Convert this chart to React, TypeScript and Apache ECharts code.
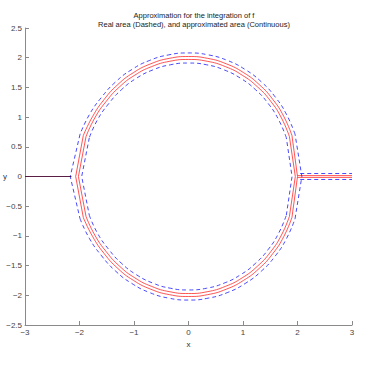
import React, { useEffect, useRef } from "react";
import * as echarts from "echarts";

const titleLines = [
  "Approximation for the integration of f",
  "Real area (Dashed), and approximated area (Continuous)",
];
const xTicks = [-3, -2, -1, 0, 1, 2, 3];
const yTicks = [-2.5, -2, -1.5, -1, -0.5, 0, 0.5, 1, 1.5, 2, 2.5];

// Closed curves: right tip, upper arc, left tip, lower arc, back to right tip
const realOuter: number[][] = [
  [2.08, 0], [1.955, 0.711], [1.801, 1.04], [1.593, 1.337], [1.337, 1.593], [1.04, 1.801], [0.711, 1.955], [0.361, 2.048], [0, 2.08],
  [-0.361, 2.048], [-0.711, 1.955], [-1.04, 1.801], [-1.337, 1.593], [-1.593, 1.337], [-1.82, 1.04], [-1.99, 0.711], [-2.17, 0],
  [-1.99, -0.711], [-1.82, -1.04], [-1.593, -1.337], [-1.337, -1.593], [-1.04, -1.801], [-0.711, -1.955], [-0.361, -2.048], [0, -2.08],
  [0.361, -2.048], [0.711, -1.955], [1.04, -1.801], [1.337, -1.593], [1.593, -1.337], [1.801, -1.04], [1.955, -0.711], [2.08, 0],
];
const realInner: number[][] = [
  [1.9, 0], [1.795, 0.653], [1.654, 0.955], [1.463, 1.228], [1.228, 1.463], [0.955, 1.654], [0.653, 1.795], [0.332, 1.881], [0, 1.91],
  [-0.332, 1.881], [-0.653, 1.795], [-0.955, 1.654], [-1.228, 1.463], [-1.463, 1.228], [-1.67, 0.955], [-1.82, 0.653], [-1.96, 0],
  [-1.82, -0.653], [-1.67, -0.955], [-1.463, -1.228], [-1.228, -1.463], [-0.955, -1.654], [-0.653, -1.795], [-0.332, -1.881], [0, -1.91],
  [0.332, -1.881], [0.653, -1.795], [0.955, -1.654], [1.228, -1.463], [1.463, -1.228], [1.654, -0.955], [1.795, -0.653], [1.9, 0],
];
const approxOuter: number[][] = [
  [2.0, 0], [1.898, 0.691], [1.749, 1.01], [1.547, 1.298], [1.298, 1.547], [1.01, 1.749], [0.691, 1.898], [0.351, 1.989], [0, 2.02],
  [-0.351, 1.989], [-0.691, 1.898], [-1.01, 1.749], [-1.298, 1.547], [-1.547, 1.298], [-1.76, 1.01], [-1.93, 0.691], [-2.07, 0],
  [-1.93, -0.691], [-1.76, -1.01], [-1.547, -1.298], [-1.298, -1.547], [-1.01, -1.749], [-0.691, -1.898], [-0.351, -1.989], [0, -2.02],
  [0.351, -1.989], [0.691, -1.898], [1.01, -1.749], [1.298, -1.547], [1.547, -1.298], [1.749, -1.01], [1.898, -0.691], [2.0, 0],
];
const approxInner: number[][] = [
  [1.96, 0], [1.851, 0.674], [1.706, 0.985], [1.509, 1.266], [1.266, 1.509], [0.985, 1.706], [0.674, 1.851], [0.342, 1.94], [0, 1.97],
  [-0.342, 1.94], [-0.674, 1.851], [-0.985, 1.706], [-1.266, 1.509], [-1.509, 1.266], [-1.72, 0.985], [-1.88, 0.674], [-2.02, 0],
  [-1.88, -0.674], [-1.72, -0.985], [-1.509, -1.266], [-1.266, -1.509], [-0.985, -1.706], [-0.674, -1.851], [-0.342, -1.94], [0, -1.97],
  [0.342, -1.94], [0.674, -1.851], [0.985, -1.706], [1.266, -1.509], [1.509, -1.266], [1.706, -0.985], [1.851, -0.674], [1.96, 0],
];
const realTailRightUp: number[][] = [[2.05, 0.05], [3, 0.05]];
const realTailRightDown: number[][] = [[2.05, -0.05], [3, -0.05]];
const approxTailRightUp: number[][] = [[2.0, 0.015], [3, 0.015]];
const approxTailRightDown: number[][] = [[2.0, -0.015], [3, -0.015]];
const tailLeft: number[][] = [[-3, 0], [-2.15, 0]];

const FONT = "Liberation Sans, Arial, sans-serif";
const RED = "#ff2a2a";
const BLUE = "#1a1aff";

const fmt = (v: number) => (v < 0 ? "\u2212" + String(-v) : String(v));

export default function App() {
  const ref = useRef<HTMLDivElement>(null);
  useEffect(() => {
    if (!ref.current) return;
    const chart = echarts.init(ref.current, null, { renderer: "svg" });
    const lineS = (data: number[][], color: string, dashed: boolean, smooth: boolean, z = 2) => ({
      type: "line",
      data,
      showSymbol: false,
      symbol: "none",
      silent: true,
      smooth: smooth ? 0.5 : false,
      z,
      lineStyle: { color, width: 0.8, type: dashed ? [4, 3] : "solid" },
    });
    const curveParts = (c: number[][], color: string, dashed: boolean, z: number) => [
      lineS(c.slice(1, 16), color, dashed, true, z),
      lineS(c.slice(17, 32), color, dashed, true, z),
      lineS(c.slice(15, 18), color, dashed, false, z),
      lineS([c[31], c[32], c[1]], color, dashed, false, z),
    ];
    chart.setOption({
      animation: false,
      backgroundColor: "#ffffff",
      title: {
        text: titleLines.join("\n"),
        left: 189,
        top: 6,
        textAlign: "center",
        textStyle: { fontFamily: FONT, fontSize: 7.5, fontWeight: "normal", color: "#222", lineHeight: 9 },
      },
      grid: { left: 25, right: 13, top: 28, bottom: 40, containLabel: false },
      xAxis: {
        type: "value",
        min: -3,
        max: 3,
        interval: 1,
        name: "x",
        nameLocation: "middle",
        nameGap: 15,
        nameMoveOverlap: false,
        nameTextStyle: { fontFamily: FONT, fontSize: 8, color: "#333" },
        axisLine: { show: true, onZero: false, lineStyle: { color: "#8a8a8a", width: 1 } },
        axisTick: { show: true, inside: true, length: 4, lineStyle: { color: "#8a8a8a" } },
        axisLabel: { fontFamily: FONT, fontSize: 8, color: "#444", margin: 3, formatter: fmt, customValues: xTicks },
        splitLine: { show: false },
      },
      yAxis: {
        type: "value",
        min: -2.5,
        max: 2.5,
        interval: 0.5,
        name: "y",
        nameLocation: "middle",
        nameGap: 18,
        nameRotate: 0,
        nameMoveOverlap: false,
        nameTextStyle: { fontFamily: FONT, fontSize: 8, color: "#333" },
        axisLine: { show: true, onZero: false, lineStyle: { color: "#8a8a8a", width: 1 } },
        axisTick: { show: true, inside: true, length: 4, lineStyle: { color: "#8a8a8a" } },
        axisLabel: { fontFamily: FONT, fontSize: 8, color: "#444", margin: 3, formatter: fmt, customValues: yTicks },
        splitLine: { show: false },
      },
      series: [
        ...curveParts(approxOuter, RED, false, 2),
        ...curveParts(approxInner, RED, false, 2),
        lineS(approxTailRightUp, RED, false, false),
        lineS(approxTailRightDown, RED, false, false),
        lineS(tailLeft, RED, false, false),
        ...curveParts(realOuter, BLUE, true, 3),
        ...curveParts(realInner, BLUE, true, 3),
        lineS(realTailRightUp, BLUE, true, false, 3),
        lineS(realTailRightDown, BLUE, true, false, 3),
        lineS(tailLeft, "#301040", false, false, 4),
      ],
    });
    return () => chart.dispose();
  }, []);
  return (
    <div
      ref={ref}
      style={{ position: "fixed", left: 0, top: 0, width: 365, height: 365, background: "#fff" }}
    />
  );
}
